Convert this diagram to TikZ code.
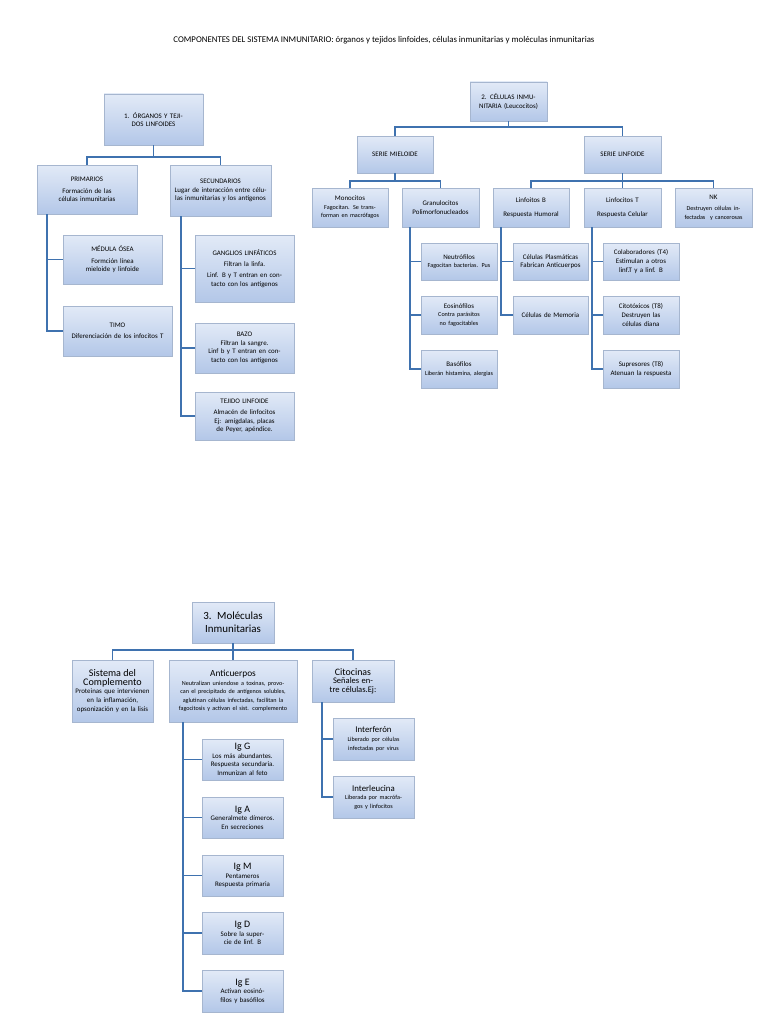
\documentclass[tikz,border=0pt]{standalone}
\usepackage{fontspec}
\setmainfont{Carlito}
\usetikzlibrary{shadows}
\definecolor{lineblue}{HTML}{3F72AF}
\definecolor{boxtop}{HTML}{E2EAF7}
\definecolor{boxbot}{HTML}{B3C7E8}
\definecolor{boxedge}{HTML}{A6B6CF}
\tikzset{
  box/.style={draw=boxedge, line width=0.5pt, top color=boxtop, bottom color=boxbot,
    drop shadow={opacity=0.35, shadow xshift=1pt, shadow yshift=-1pt},
    align=center, inner sep=1pt, outer sep=0pt, font=\fontsize{5.2}{6.4}\selectfont},
  conn/.style={draw=lineblue, line width=1.4pt},
  big/.style={font=\fontsize{8.2}{9.6}\selectfont},
}
\newcommand\bx[7][]{%
  \pgfmathsetmacro\bw{(#5-#3)*0.75}\pgfmathsetmacro\bh{(#6-#4)*0.75}%
  \pgfmathsetmacro\tw{(#5-#3)*0.75-3}%
  \node[box,#1, minimum width=\bw pt, minimum height=\bh pt, text width=\tw pt] (#2) at ({(#3+#5)/2},{(#4+#6)/2}) {#7};}
\newcommand\sm{\fontsize{4.6}{5.6}\selectfont}
\begin{document}
\begin{tikzpicture}[x=0.75pt,y=-0.75pt]
\useasboundingbox (0,0) rectangle (768,1024);
\node[font=\fontsize{6.6}{8}\selectfont] (title) at (384,40) {COMPONENTES DEL SISTEMA INMUNITARIO: órganos y tejidos linfoides, células inmunitarias y moléculas inmunitarias};

% Section 1
\bx{org}{104}{94}{203}{145}{1. ÓRGANOS Y TEJIDOS LINFOIDES}
\bx{prim}{37}{165}{137}{214}{PRIMARIOS\\[2pt] Formación de las células inmunitarias}
\bx{sec}{170}{165}{271}{216}{SECUNDARIOS\\ Lugar\ de interacción entre células inmunitarias y los antígenos}
\bx{med}{63}{235}{162}{284}{MÉDULA ÓSEA\\[2pt] Formción línea mieloide y linfoide}
\bx{timo}{63}{306}{172}{356}{TIMO\\[2pt] Diferenciación de los infocitos T}
\bx{gang}{195}{235}{294}{302}{GANGLIOS LINFÁTICOS\\[2pt] Filtran la linfa.\\[2pt] Linf. B y T entran en contacto con los antígenos}
\bx{bazo}{195}{323}{294}{373}{BAZO\\ Filtran la sangre.\\ Linf b y T entran en contacto con los antígenos}
\bx{tej}{195}{392}{294}{440}{TEJIDO LINFOIDE\\[2pt] Almacén de linfocitos\\ Ej: amígdalas, placas de Peyer, apéndice.}
\draw[conn] (org.south) -- (org.south |- 0,157) -| (prim.north);
\draw[conn] (org.south) -- (org.south |- 0,157) -| (sec.north);
\draw[conn] (prim.south -| 47,0) |- (med.west);
\draw[conn] (prim.south -| 47,0) |- (timo.west);
\draw[conn] (sec.south -| 181,0) |- (gang.west);
\draw[conn] (sec.south -| 181,0) |- (bazo.west);
\draw[conn] (sec.south -| 181,0) |- (tej.west);

% Section 2
\bx{cel}{470}{82}{547}{121}{2. CÉLULAS INMUNITARIA (Leucocitos)}
\bx{mie}{357}{136}{433}{173}{SERIE MIELOIDE}
\bx{lin}{584}{136}{661}{173}{SERIE LINFOIDE}
\bx{mono}{312}{188}{388}{227}{Monocitos\\ {\sm Fagocitan. Se transforman en macrófagos}}
\bx{gran}{402}{188}{479}{227}{Granulocitos Polimorfonucleados}
\bx{lb}{493}{188}{569}{227}{Linfoitos B\\[4pt] Respuesta Humoral}
\bx{lt}{584}{188}{661}{227}{Linfocitos T\\[4pt] Respuesta Celular}
\bx{nk}{675}{188}{752}{227}{NK\\[2pt] {\sm Destruyen células infectadas\ \ y cancerosas}}
\bx{neu}{421}{243}{497}{280}{Neutrófilos\\ {\sm Fagocitan bacterias. Pus}}
\bx{eos}{421}{296}{497}{334}{Eosinófilos\\ {\sm Contra parásitos no fagocitables}}
\bx{bas}{421}{350}{497}{388}{Basófilos\\ {\sm Liberán histamina, alergias}}
\bx{pla}{513}{243}{588}{280}{Células Plasmáticas Fabrican Anticuerpos}
\bx{mem}{513}{296}{588}{334}{Células de Memoria}
\bx{col}{603}{243}{679}{280}{Colaboradores (T4)\\ Estimulan a otros linf.T y a linf. B}
\bx{cit}{603}{296}{679}{334}{Citotóxicos (T8)\\ Destruyen las células diana}
\bx{sup}{603}{350}{679}{388}{Supresores (T8)\\ Atenuan la respuesta}
\draw[conn] (cel.south) -- (cel.south |- 0,127) -| (mie.north);
\draw[conn] (cel.south) -- (cel.south |- 0,127) -| (lin.north);
\draw[conn] (mie.south) -- (mie.south |- 0,181) -| (mono.north);
\draw[conn] (mie.south) -- (mie.south |- 0,181) -| (gran.north);
\draw[conn] (lin.south) -- (lin.south |- 0,181) -| (lb.north);
\draw[conn] (lin.south) -- (lt.north);
\draw[conn] (lin.south) -- (lin.south |- 0,181) -| (nk.north);
\draw[conn] (gran.south -| 410,0) |- (neu.west);
\draw[conn] (gran.south -| 410,0) |- (eos.west);
\draw[conn] (gran.south -| 410,0) |- (bas.west);
\draw[conn] (lb.south -| 501,0) |- (pla.west);
\draw[conn] (lb.south -| 501,0) |- (mem.west);
\draw[conn] (lt.south -| 592,0) |- (col.west);
\draw[conn] (lt.south -| 592,0) |- (cit.west);
\draw[conn] (lt.south -| 592,0) |- (sup.west);

% Section 3
\bx[big]{mol}{192}{602}{274}{643}{3. Moléculas Inmunitarias}
\bx{sis}{72}{660}{153}{722}{{\fontsize{7.6}{9}\selectfont Sistema del Complemento}\\ Proteinas que intervienen en la inflamación, opsonización y en la lisis}
\bx{anti}{169}{660}{297}{722}{{\fontsize{7}{8.4}\selectfont Anticuerpos}\\ {\sm Neutralizan uniendose a toxinas, provocan el precipitado de antígenos solubles, aglutinan células infectadas, facilitan la fagocitosis y activan el sist. complemento}}
\bx{cito}{312}{660}{394}{702}{{\fontsize{7.4}{8.6}\selectfont Citocinas}\\ {\fontsize{6.4}{7.6}\selectfont Señales entre células.Ej:}}
\bx{inf}{333}{718}{414}{760}{{\fontsize{6.6}{8}\selectfont Interferón}\\ {\sm Liberado por células infectadas por virus}}
\bx{ileu}{333}{776}{414}{818}{{\fontsize{6.6}{8}\selectfont Interleucina}\\ {\sm Liberada por macrófagos y linfocitos}}
\bx{igg}{202}{739}{283}{780}{{\fontsize{7.4}{8.6}\selectfont Ig G}\\ Los más abundantes. Respuesta secundaria. Inmunizan al feto}
\bx{iga}{202}{797}{283}{838}{{\fontsize{7.4}{8.6}\selectfont Ig A}\\ Generalmete dímeros. En secreciones}
\bx{igm}{202}{855}{283}{896}{{\fontsize{7.4}{8.6}\selectfont Ig M}\\ Pentameros\\ Respuesta primaria}
\bx{igd}{202}{912}{283}{954}{{\fontsize{7.4}{8.6}\selectfont Ig D}\\ Sobre la supercie de linf. B}
\bx{ige}{202}{970}{283}{1012}{{\fontsize{7.4}{8.6}\selectfont Ig E}\\ Activan eosinófilos y basófilos}
\draw[conn] (mol.south) -- (mol.south |- 0,650) -| (sis.north);
\draw[conn] (mol.south) -- (anti.north);
\draw[conn] (mol.south) -- (mol.south |- 0,650) -| (cito.north);
\draw[conn] (cito.south -| 322,0) |- (inf.west);
\draw[conn] (cito.south -| 322,0) |- (ileu.west);
\foreach \n in {igg,iga,igm,igd,ige}{\draw[conn] (anti.south -| 183,0) |- (\n.west);}
\end{tikzpicture}
\end{document}
